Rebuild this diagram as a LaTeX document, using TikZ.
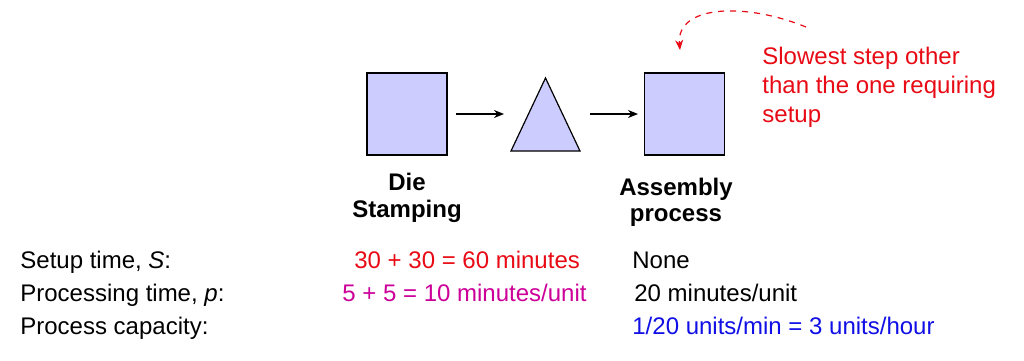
\documentclass[tikz,border=0pt]{standalone}
\usepackage{fontspec}
\setmainfont{Liberation Sans}
\usetikzlibrary{arrows.meta}
\definecolor{stepfill}{RGB}{204,204,255}
\definecolor{notered}{RGB}{232,10,20}
\definecolor{procmag}{RGB}{204,0,153}
\definecolor{capblue}{RGB}{15,15,230}
\tikzset{
    stepbox/.style={rectangle, draw, fill=stepfill, line width=0.6pt, minimum width=40pt, minimum height=41pt, inner sep=0pt},
    flow/.style={-{Stealth[length=5pt,width=4pt]}, line width=0.6pt},
    txt/.style={font=\fontsize{12}{14.5}\selectfont, inner sep=0pt, anchor=base west, align=left},
    lbl/.style={font=\bfseries\fontsize{12}{13.5}\selectfont, inner sep=0pt, anchor=base, align=center}
}

\begin{document}
\begin{tikzpicture}[x=0.5pt,y=-0.5pt]
    \useasboundingbox (0,0) rectangle (1024,360);
    \path node[stepbox] (DS) at (407,114) {}
        node[stepbox] (AP) at (684.5,114) {}
        node[lbl] (DSl) at (407,217) {Die\\Stamping}
        node[lbl, font=\bfseries\fontsize{12}{13}\selectfont] (APl) at (676,221) {Assembly\\process}
        node[txt, text=notered] (note) at (762,122) {Slowest step other\\than the one requiring\\setup};
    % buffer between the two steps
    \draw[fill=stepfill, line width=0.6pt] (511,151) -- (545.5,78) -- (580,151) -- cycle;
    \coordinate (a1s) at (456,114);
    \coordinate (a1e) at (504,114);
    \coordinate (a2s) at (590,114);
    \coordinate (a2e) at (638,114);
    \draw[flow] (a1s) -- (a1e);
    \draw[flow] (a2s) -- (a2e);
    \coordinate (ns) at (806,27);
    \coordinate (ne) at (680,50);
    \draw[notered, dashed, line width=0.6pt, -{Stealth[length=5pt,width=4pt]}]
        (ns) .. controls (745,2) and (676,5) .. (ne);
    % rows
    \path node[txt] (r1) at (20,268) {Setup time, \textit{S}:}
        node[txt] (r2) at (20,301) {Processing time, \textit{p}:}
        node[txt] (r3) at (20,334) {Process capacity:}
        node[txt, text=notered] (s1) at (354,268) {30 + 30 = 60 minutes}
        node[txt, text=procmag] (p1) at (342,301) {5 + 5 = 10 minutes/unit}
        node[txt] (s2) at (632,268) {None}
        node[txt] (p2) at (634,301) {20 minutes/unit}
        node[txt, text=capblue] (c2) at (632,334) {1/20 units/min = 3 units/hour};
\end{tikzpicture}
\end{document}
